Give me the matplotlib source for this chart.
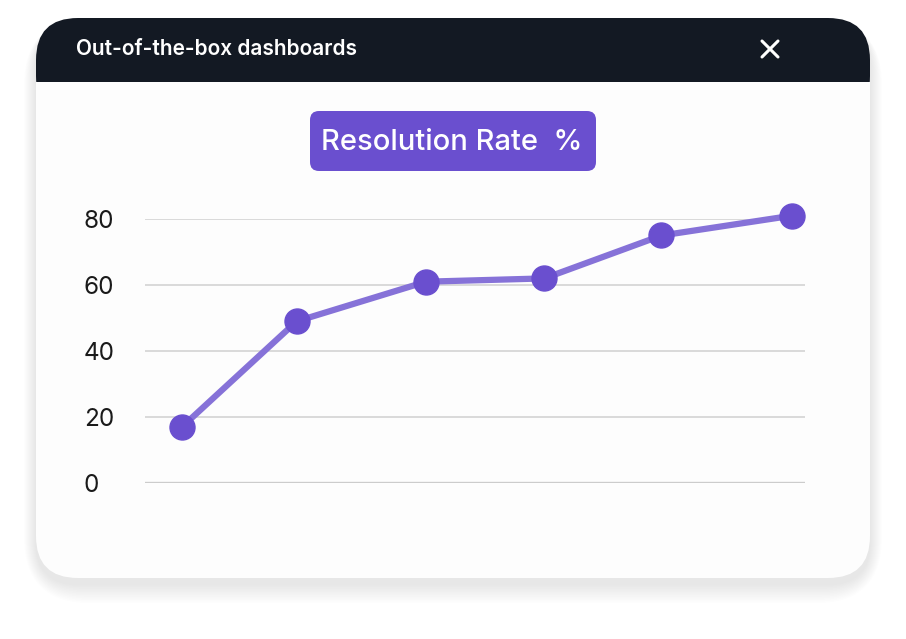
import matplotlib
matplotlib.use("Agg")
import matplotlib.pyplot as plt
from matplotlib.patches import FancyBboxPatch

# data (x, points are not evenly spaced)
xpos = [0, 0.94, 2.0, 2.97, 3.93, 5]
rate = [17, 49, 61, 62, 75, 81]
yticks = [0, 20, 40, 60, 80]

W, H = 906, 639
fig = plt.figure(figsize=(W / 100, H / 100), dpi=100)
fig.patch.set_facecolor("white")

bg = fig.add_axes([0, 0, 1, 1])
bg.set_xlim(0, W)
bg.set_ylim(H, 0)
bg.axis("off")

# soft shadow
for i in range(12):
    pad = 2 + i * 2.0
    bg.add_patch(FancyBboxPatch((36 - pad * 0.5, 18 + 6 - pad * 0.2), 834 + pad, 560 + pad,
                                boxstyle="round,pad=0,rounding_size=%d" % (42 + pad),
                                fc="#000000", ec="none", alpha=0.006))
# card
bg.add_patch(FancyBboxPatch((36, 18), 834, 560, boxstyle="round,pad=0,rounding_size=42",
                            fc="#fdfdfd", ec="none"))
# header
bg.add_patch(FancyBboxPatch((36, 18), 834, 100, boxstyle="round,pad=0,rounding_size=42",
                            fc="#131923", ec="none"))
bg.add_patch(plt.Rectangle((36, 82), 834, 40, fc="#fdfdfd", ec="none"))
bg.text(76, 49, "Out-of-the-box dashboards", color="white", fontsize=15,
        fontweight="semibold", family="Inter", va="center", ha="left")
bg.plot([762, 778], [41, 57], color="white", lw=2.2, solid_capstyle="round")
bg.plot([762, 778], [57, 41], color="white", lw=2.2, solid_capstyle="round")

# title pill
bg.add_patch(FancyBboxPatch((310, 111), 286, 60, boxstyle="round,pad=0,rounding_size=9",
                            fc="#6a4fcf", ec="none"))
bg.text(452, 142, "Resolution Rate  %", color="white", fontsize=21, family="Inter",
        fontweight="medium", va="center", ha="center")

# chart axes
x0, x1, ybot, ytop = 145, 805, 483, 219
ax = fig.add_axes([x0 / W, (H - ybot) / H, (x1 - x0) / W, (ybot - ytop) / H])
ax.patch.set_alpha(0)
ax.set_xlim(-37 / 122, 5 + 13 / 122)
ax.set_ylim(0, 80)
for s in ax.spines.values():
    s.set_visible(False)
ax.set_xticks([])
ax.set_yticks(yticks)
ax.tick_params(axis="y", length=0, pad=44, labelsize=17.5, labelcolor="#1a1a1a")
for lbl in ax.get_yticklabels():
    lbl.set_ha("left")
    lbl.set_family("Inter")
for t in yticks:
    ax.axhline(t, color="#d3d3d3" if t else "#cccccc", lw=1.2 if t else 2.4, zorder=1)
ax.plot(xpos, rate, color="#8672d8", lw=4.5, zorder=2, clip_on=False)
ax.plot(xpos, rate, "o", color="#6a4fcf", ms=18, zorder=3, clip_on=False)

fig.savefig("out.png", dpi=100)
